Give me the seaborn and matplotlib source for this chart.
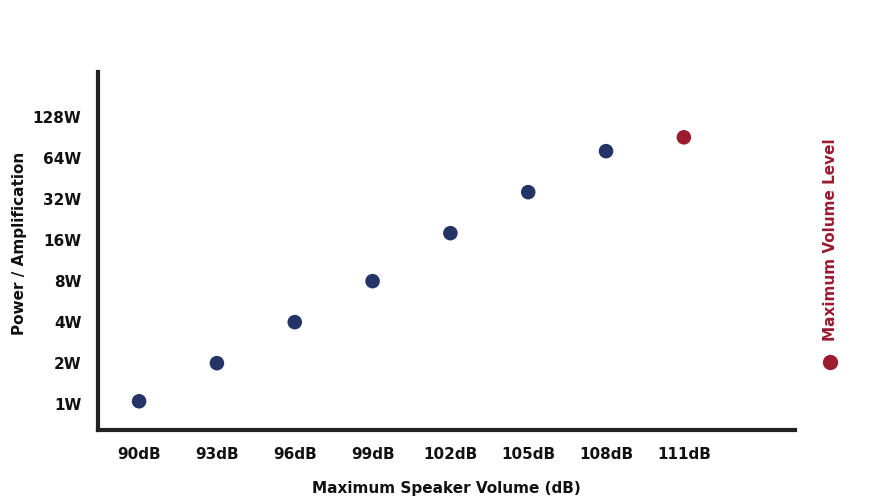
import numpy as np
import matplotlib
matplotlib.use("Agg")
import matplotlib.pyplot as plt
import seaborn as sns
from matplotlib.lines import Line2D

volume_db = [90, 93, 96, 99, 102, 105, 108, 111]
power_w = [1.05, 2, 4, 8, 18, 36, 72, 91]
is_max = [False] * 7 + [True]
y_ticks = [1, 2, 4, 8, 16, 32, 64, 128]
y_labels = ["1W", "2W", "4W", "8W", "16W", "32W", "64W", "128W"]
x_labels = [f"{v}dB" for v in volume_db]

navy = "#243466"
red = "#9b1b30"

sns.set_theme(style="white")
plt.rcParams["font.family"] = ["DejaVu Sans"]

fig = plt.figure(figsize=(8.76, 5.0), dpi=100)
ax = fig.add_axes([0.112, 0.14, 0.796, 0.716])

colors = [red if m else navy for m in is_max]
sns.scatterplot(x=volume_db, y=power_w, c=colors, s=110, edgecolor="none", ax=ax)

ax.set_yscale("log", base=2)
ax.set_ylim(2 ** -0.63, 2 ** 8.1)
ax.set_xlim(88.42, 115.3)
ax.set_yticks(y_ticks)
ax.set_yticklabels(y_labels)
ax.set_xticks(volume_db)
ax.set_xticklabels(x_labels)
ax.minorticks_off()
ax.tick_params(length=0, labelsize=11, pad=12)
for lab in ax.get_xticklabels() + ax.get_yticklabels():
    lab.set_fontweight("bold")
    lab.set_color("#111111")

for side in ["top", "right"]:
    ax.spines[side].set_visible(False)
for side in ["left", "bottom"]:
    ax.spines[side].set_linewidth(3)
    ax.spines[side].set_color("#222222")

ax.set_xlabel("Maximum Speaker Volume (dB)", fontsize=11, fontweight="bold", color="#111111")
ax.set_ylabel("Power / Amplification", fontsize=11, fontweight="bold", color="#111111")
ax.xaxis.set_label_coords(0.5, -0.142)
ax.yaxis.set_label_coords(-0.102, 0.52)

fig.text(0.948, 0.52, "Maximum Volume Level", rotation=90, color=red,
         fontsize=11, fontweight="bold", ha="center", va="center")
fig.add_artist(Line2D([0.948], [1 - 362 / 500], marker="o", color=red,
                      markersize=10, linestyle="none", transform=fig.transFigure))

fig.savefig("out.png", dpi=100)
